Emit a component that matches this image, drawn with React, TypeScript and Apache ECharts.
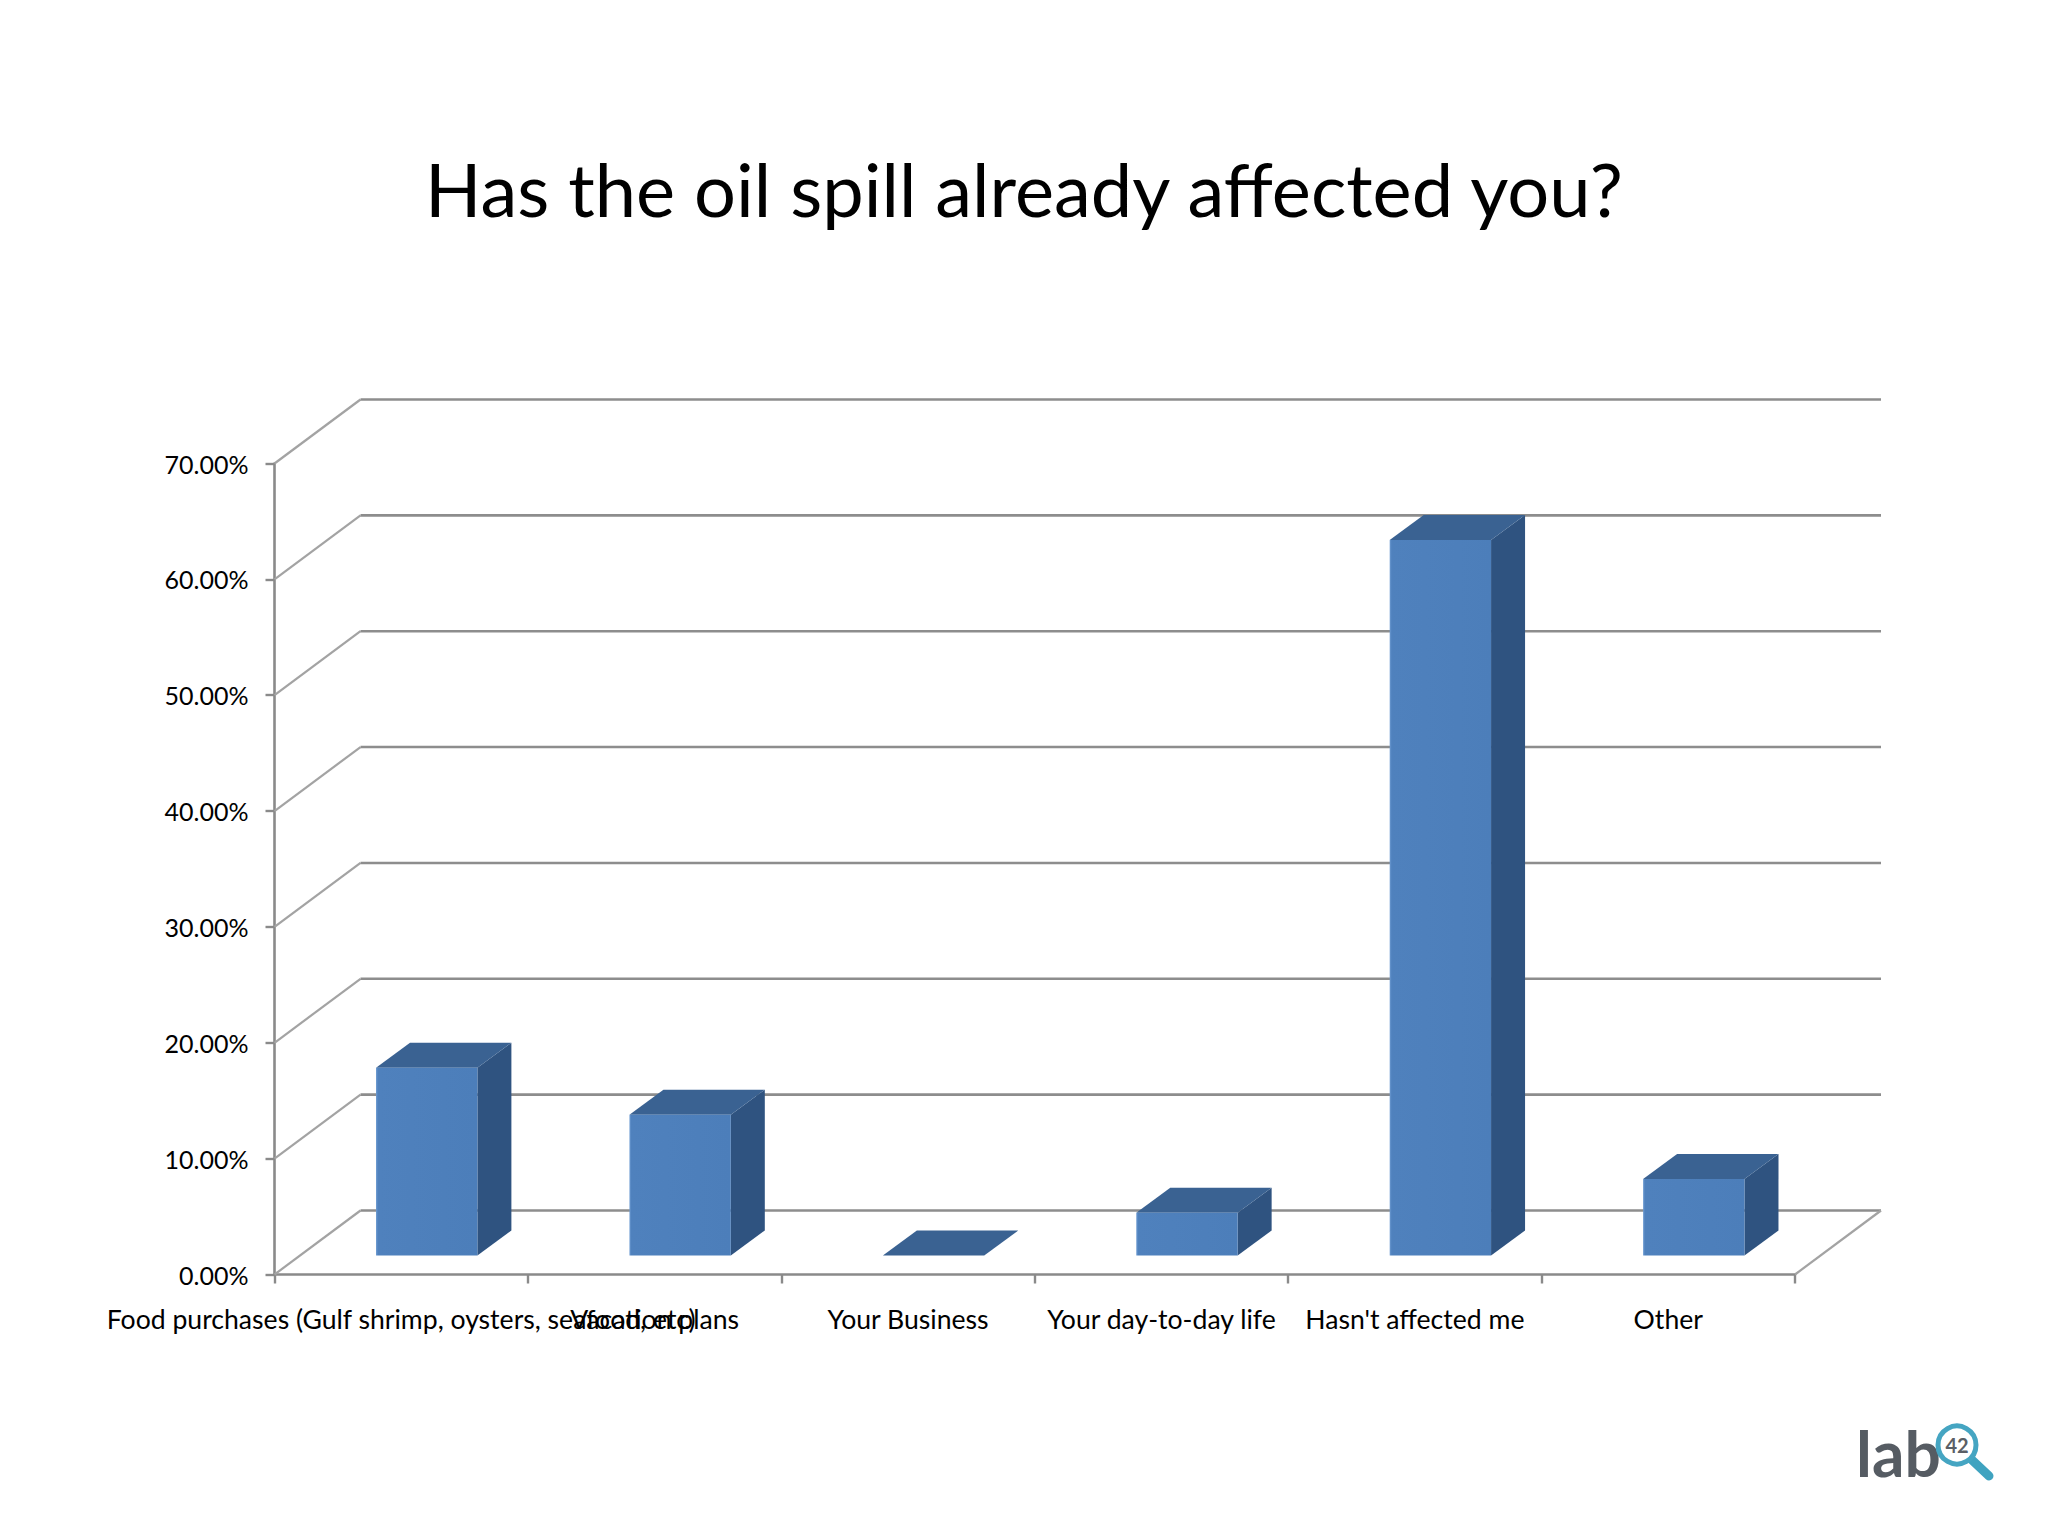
import React, { useEffect, useRef } from "react";
import * as echarts from "echarts";

const titleText = "Has the oil spill already affected you?";
const categories = [
  "Food purchases (Gulf shrimp, oysters, seafood, etc)",
  "Vacation plans",
  "Your Business",
  "Your day-to-day life",
  "Hasn't affected me",
  "Other",
];
const shares = [16.2, 12.15, 0, 3.7, 61.75, 6.6];
const gridTicks = [0, 10, 20, 30, 40, 50, 60, 70];

const FONT = "Lato";
const AXIS_GREY = "#8a8a8a";
const WALL_GREY = "#8d8d8d";

export default function App() {
  const ref = useRef<HTMLDivElement>(null);
  useEffect(() => {
    document.body.style.margin = "0";
    const chart = echarts.init(ref.current!, undefined, { renderer: "svg" });

    const wallDx = 86;
    const wallDy = -64;

    const renderWall = (params: any, api: any) => {
      const cs = params.coordSys;
      const p = api.coord([0, api.value(1)]);
      const left = cs.x;
      const right = cs.x + cs.width;
      const children: any[] = [
        {
          type: "line",
          shape: { x1: left, y1: p[1], x2: left + wallDx, y2: p[1] + wallDy },
          style: { stroke: "#a3a3a3", lineWidth: 2.2 },
        },
        {
          type: "line",
          shape: { x1: left + wallDx, y1: p[1] + wallDy, x2: right + wallDx, y2: p[1] + wallDy },
          style: { stroke: WALL_GREY, lineWidth: 2.6 },
        },
      ];
      if (api.value(1) === 0) {
        children.push({
          type: "line",
          shape: { x1: right, y1: p[1], x2: right + wallDx, y2: p[1] + wallDy },
          style: { stroke: "#a3a3a3", lineWidth: 2.2 },
        });
      }
      return { type: "group", children };
    };

    const renderBar = (_params: any, api: any) => {
      const i = api.value(0);
      const base = api.coord([i, 0]);
      const top = api.coord([i, api.value(1)]);
      const w = api.size([1, 0])[0] * 0.4;
      const offX = 25.5;
      const offY = -19;
      const dX = 34;
      const dY = -25;
      const x0 = base[0] + offX - w / 2;
      const x1 = x0 + w;
      const yB = base[1] + offY;
      const yT = top[1] + offY;
      const children: any[] = [
        {
          type: "polygon",
          shape: { points: [[x1, yB], [x1 + dX, yB + dY], [x1 + dX, yT + dY], [x1, yT]] },
          style: { fill: "#2f5380" },
        },
        {
          type: "polygon",
          shape: { points: [[x0, yT], [x0 + dX, yT + dY], [x1 + dX, yT + dY], [x1, yT]] },
          style: { fill: "#3a6292" },
        },
      ];
      if (yB - yT > 0) {
        children.push({
          type: "rect",
          shape: { x: x0, y: yT, width: w, height: yB - yT },
          style: {
            fill: new echarts.graphic.LinearGradient(0, 0, 1, 0, [
              { offset: 0, color: "#6d9bd2" },
              { offset: 0.02, color: "#4f81bd" },
              { offset: 1, color: "#4c7eba" },
            ]),
          },
        });
      }
      return { type: "group", children };
    };

    chart.setOption({
      animation: false,
      backgroundColor: "#ffffff",
      title: {
        text: titleText,
        left: 1019,
        top: 146,
        textAlign: "center",
        textStyle: { fontFamily: FONT, fontSize: 74, fontWeight: "normal", color: "#000000" },
      },
      grid: { left: 274.5, right: 253, top: 463.5, bottom: 261.5 },
      xAxis: {
        type: "category",
        data: categories,
        axisLine: { lineStyle: { color: AXIS_GREY, width: 2.6 } },
        axisTick: { show: true, alignWithLabel: false, length: 9, lineStyle: { color: AXIS_GREY, width: 2.4 } },
        axisLabel: {
          interval: 0,
          hideOverlap: false,
          fontFamily: FONT,
          fontSize: 26.6,
          color: "#000000",
          margin: 31,
        },
      },
      yAxis: {
        type: "value",
        min: 0,
        max: 70,
        interval: 10,
        splitLine: { show: false },
        axisLine: { show: true, lineStyle: { color: AXIS_GREY, width: 2.6 } },
        axisTick: { show: true, length: 9, lineStyle: { color: AXIS_GREY, width: 2.4 } },
        axisLabel: {
          formatter: (v: number) => v.toFixed(2) + "%",
          fontFamily: FONT,
          fontSize: 25,
          color: "#000000",
          margin: 26,
          padding: [2, 0, 0, 0],
        },
      },
      series: [
        {
          type: "custom",
          name: "walls",
          z: 1,
          clip: false,
          silent: true,
          renderItem: renderWall,
          encode: { x: 0, y: 1 },
          data: gridTicks.map((t) => [0, t]),
        },
        {
          type: "custom",
          name: "Share",
          z: 3,
          clip: false,
          renderItem: renderBar,
          encode: { x: 0, y: 1 },
          data: shares.map((v, i) => [i, v]),
        },
      ],
      graphic: [
        {
          type: "text",
          x: 1856,
          y: 1420,
          style: {
            text: "lab",
            fontFamily: FONT,
            fontSize: 64,
            fontWeight: "bold",
            fill: "#565c63",
          },
        },
        {
          type: "line",
          shape: { x1: 1972, y1: 1460, x2: 1989, y2: 1476 },
          style: { stroke: "#3fa3c0", lineWidth: 9, lineCap: "round" },
        },
        {
          type: "circle",
          shape: { cx: 1957, cy: 1445, r: 19 },
          style: { fill: "#ffffff", stroke: "#45a5c2", lineWidth: 5 },
        },
        {
          type: "text",
          x: 1957,
          y: 1445,
          style: {
            text: "42",
            fontFamily: FONT,
            fontSize: 20,
            fontWeight: "bold",
            fill: "#5a5f66",
            align: "center",
            verticalAlign: "middle",
          },
        },
      ],
    });
    return () => chart.dispose();
  }, []);

  return <div ref={ref} style={{ position: "absolute", left: 0, top: 0, width: 2048, height: 1536 }} />;
}
